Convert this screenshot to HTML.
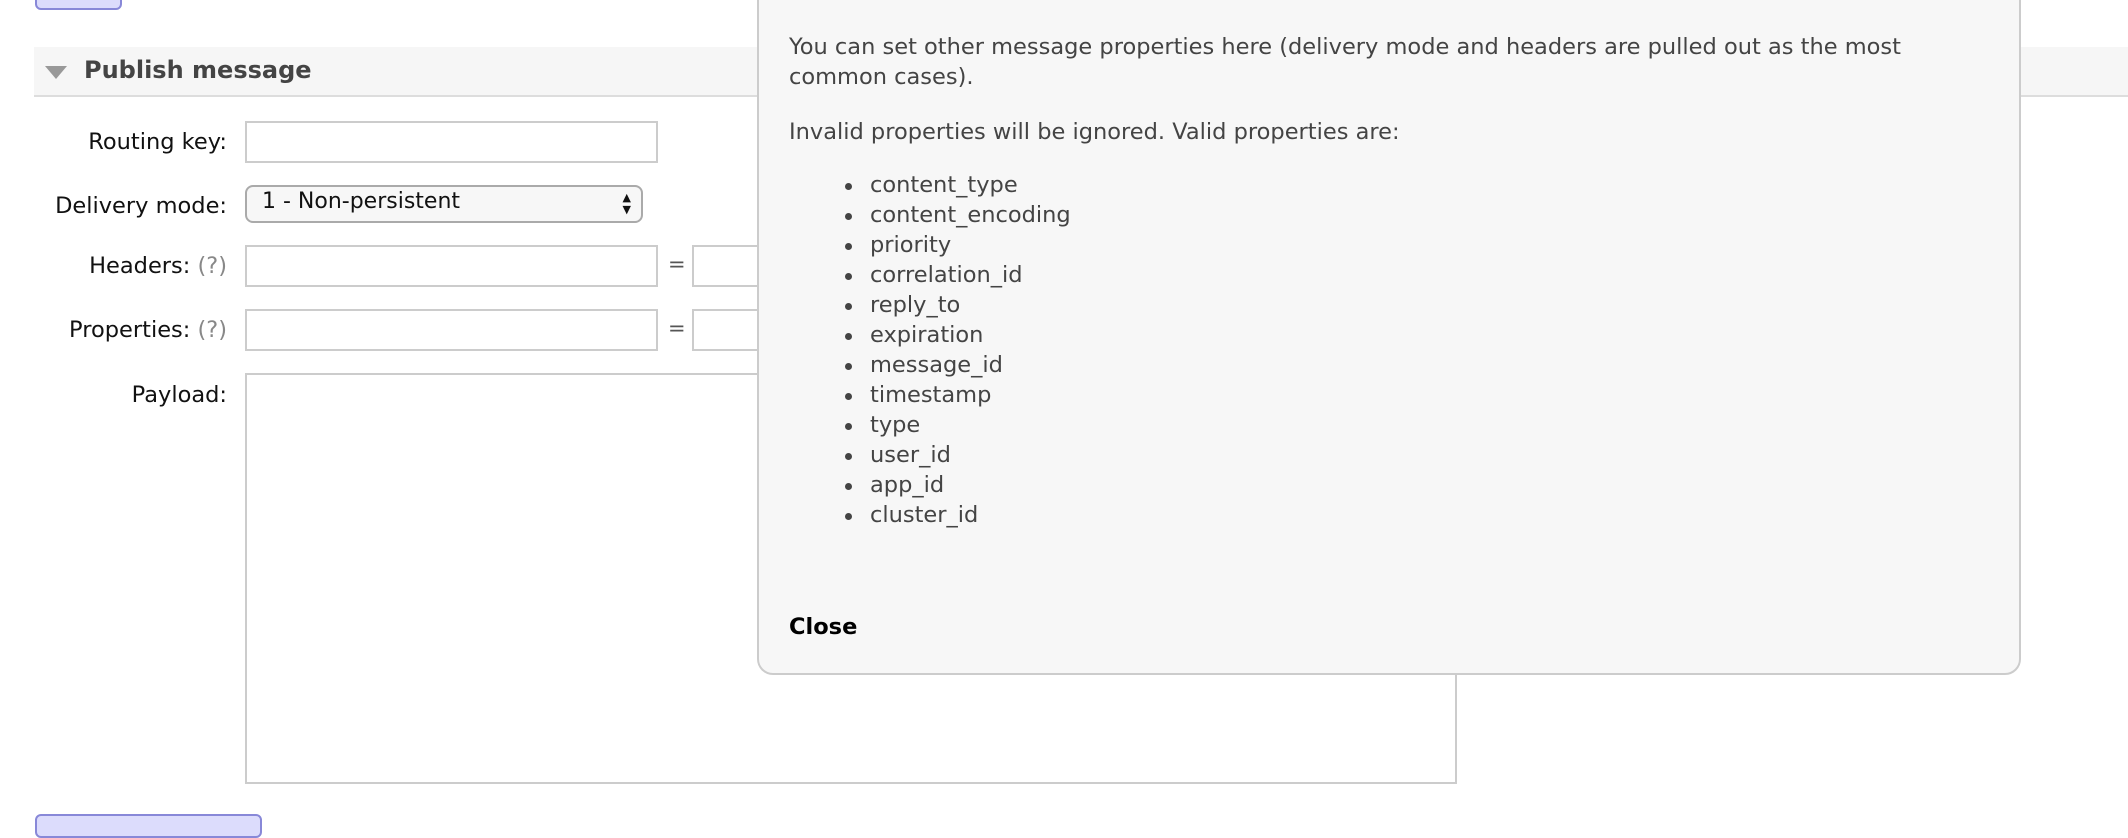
<!DOCTYPE html>
<html><head><style>
body{margin:0;width:2128px;height:818px;background:#fff;position:relative;overflow:hidden;font-family:"DejaVu Sans","Liberation Sans",sans-serif;}
.a{position:absolute}
.inp{position:absolute;border:2px solid #ccc;background:#fff;box-sizing:border-box}
.lbl{position:absolute;right:1901px;font-size:22.5px;color:#111;white-space:nowrap}
.q{color:#888}
ul{margin:0;padding:0;list-style:none}
li{height:30px;line-height:30px;position:relative}
li:before{content:"";position:absolute;left:-25px;top:13px;width:7px;height:7px;border-radius:50%;background:#444}
</style></head><body>
<div class="a" style="left:35px;top:-14px;width:83px;height:20px;background:#dcdcfc;border:2px solid #8888d8;border-radius:6px"></div>
<div class="a" style="left:34px;top:47px;width:2094px;height:48px;background:#f6f6f6;border-bottom:2px solid #ddd"></div>
<div class="a" style="left:45px;top:66px;width:0;height:0;border-left:11px solid transparent;border-right:11px solid transparent;border-top:13px solid #999"></div>
<div class="a" style="left:84px;top:56px;font-size:24px;font-weight:bold;color:#444">Publish message</div>
<div class="lbl" style="top:129px">Routing key:</div>
<div class="inp" style="left:245px;top:121px;width:413px;height:42px"></div>
<div class="lbl" style="top:193px">Delivery mode:</div>
<div class="a" style="left:245px;top:185px;width:398px;height:38px;box-sizing:border-box;border:2px solid #aaa;border-radius:8px;background:#f7f7f7;font-size:22px;color:#111;padding:2px 0 0 15px">1 - Non-persistent<span style="position:absolute;right:10px;top:5px;font-size:11px;line-height:12px">▲<br>▼</span></div>
<div class="lbl" style="top:253px">Headers: <span class="q">(?)</span></div>
<div class="inp" style="left:245px;top:245px;width:413px;height:42px"></div>
<div class="a" style="left:668px;top:252px;font-size:21px;color:#555">=</div>
<div class="inp" style="left:692px;top:245px;width:200px;height:42px"></div>
<div class="lbl" style="top:317px">Properties: <span class="q">(?)</span></div>
<div class="inp" style="left:245px;top:309px;width:413px;height:42px"></div>
<div class="a" style="left:668px;top:316px;font-size:21px;color:#555">=</div>
<div class="inp" style="left:692px;top:309px;width:200px;height:42px"></div>
<div class="lbl" style="top:382px">Payload:</div>
<div class="inp" style="left:245px;top:373px;width:1212px;height:411px"></div>
<div class="a" style="left:35px;top:814px;width:223px;height:20px;background:#dcdcfc;border:2px solid #8888d8;border-radius:6px"></div>
<div class="a" style="left:757px;top:-20px;width:1260px;height:691px;background:#f7f7f7;border:2px solid #ccc;border-radius:16px;color:#444;font-size:22.5px">
<div class="a" style="left:30px;top:50px;width:1200px;line-height:30px">You can set other message properties here (delivery mode and headers are pulled out as the most common cases).</div>
<div class="a" style="left:30px;top:135px;line-height:30px">Invalid properties will be ignored. Valid properties are:</div>
<ul class="a" style="left:111px;top:188px">
<li>content_type</li><li>content_encoding</li><li>priority</li><li>correlation_id</li><li>reply_to</li><li>expiration</li><li>message_id</li><li>timestamp</li><li>type</li><li>user_id</li><li>app_id</li><li>cluster_id</li></ul>
<div class="a" style="left:30px;top:632px;font-weight:bold;color:#000">Close</div>
</div>
</body></html>
